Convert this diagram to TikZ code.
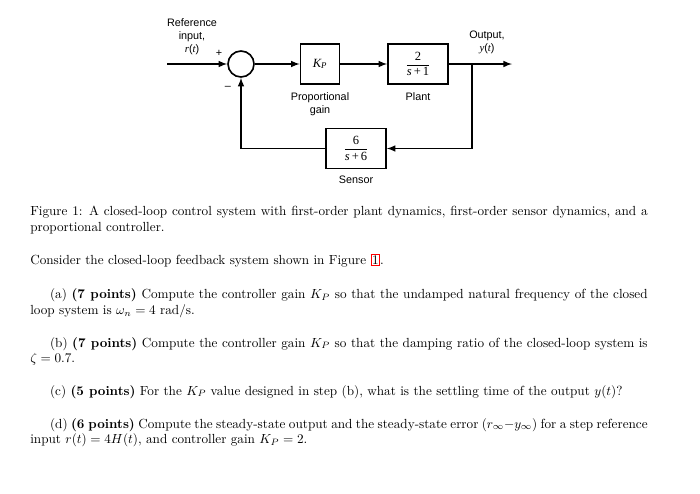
\documentclass[tikz,border=0pt]{standalone}
\usepackage{amsmath}
\usepackage{amssymb}
\usepackage{fontspec}
\newfontfamily\labelfont{Liberation Sans}
\newfontfamily\blockfont{Liberation Serif}
\newcommand{\figref}[1]{{\setlength{\fboxsep}{0.6pt}\setlength{\fboxrule}{0.5pt}\fcolorbox{red}{white}{#1}}}
\usetikzlibrary{arrows}
\tikzset{>=latex}

\begin{document}
\begin{tikzpicture}[x=0.758pt,y=-0.758pt,
    block/.style={draw,line width=1.25pt,minimum height=30.3pt,inner sep=0pt,font=\blockfont\fontsize{9.5}{10}\selectfont},
    lbl/.style={font=\labelfont\fontsize{8.2}{10}\selectfont,text width=70pt,align=center,inner sep=0pt,anchor=base},
    body/.style={anchor=base west,text width=468pt,align=justify,inner sep=0pt,font=\fontsize{10}{12}\selectfont}]
    \useasboundingbox (0,0) rectangle (700,493);

    \coordinate (In) at (167,64);
    \coordinate (Out) at (512,64);
    \coordinate (Br) at (472,64);

    \node[draw,circle,line width=1.25pt,minimum size=19.7pt,inner sep=0pt] (Sum) at (241,64) {};
    \node[block,minimum width=29.6pt] (Kp) at (320,64) {\itshape K\textsubscript{P}};
    \node[block,minimum width=45.5pt] (Plant) at (418,64) {$\dfrac{\text{\blockfont 2}}{\text{\blockfont\itshape s\upshape\,+\,1}}$};
    \node[block,minimum width=45.5pt] (Sensor) at (356,148.5) {$\dfrac{\text{\blockfont 6}}{\text{\blockfont\itshape s\upshape\,+\,6}}$};

    \draw[->,line width=1.25pt](In)--(Sum);
    \draw[->,line width=1.25pt](Sum)--(Kp);
    \draw[->,line width=1.25pt](Kp)--(Plant);
    \draw[->,line width=1.25pt](Plant)--(Out);
    \draw[->,line width=1.25pt](Br)|-(Sensor);
    \draw[->,line width=1.25pt](Sensor)-|(Sum);

    \node[lbl] (RefIn) at (192,26.5) {Reference\\input,\\{\blockfont\itshape r}({\blockfont\itshape t})};
    \node[lbl] (Plus) at (219,56) {+};
    \node[lbl] (Minus) at (228,89) {\textendash};
    \node[lbl] (OutLbl) at (487,38.5) {Output,\\{\blockfont\itshape y}({\blockfont\itshape t})};
    \node[lbl] (KpLbl) at (320,100.5) {Proportional\\gain};
    \node[lbl] (PlantLbl) at (418,100.5) {Plant};
    \node[lbl] (SensorLbl) at (356,183) {Sensor};

    \node[body] (Caption) at (30,215.5) {Figure 1: A closed-loop control system with first-order plant dynamics, first-order sensor dynamics, and a proportional controller.};
    \node[body] (Intro) at (30,264.5) {Consider the closed-loop feedback system shown in Figure~\figref{1}.};
    \node[body] (PartA) at (30,298.5) {\hspace*{15pt}(a) \textbf{(7 points)} Compute the controller gain $K_P$ so that the undamped natural frequency of the closed loop system is $\omega_n = 4$ rad/s.};
    \node[body] (PartB) at (30,347) {\hspace*{15pt}(b) \textbf{(7 points)} Compute the controller gain $K_P$ so that the damping ratio of the closed-loop system is $\zeta = 0.7$.};
    \node[body] (PartC) at (30,395) {\hspace*{15pt}(c) \textbf{(5 points)} For the $K_P$ value designed in step (b), what is the settling time of the output $y(t)$?};
    \node[body] (PartD) at (30,428) {\hspace*{15pt}(d) \textbf{(6 points)} Compute the steady-state output and the steady-state error $(r_\infty{-}y_\infty)$ for a step reference input $r(t) = 4H(t)$, and controller gain $K_P = 2$.};
\end{tikzpicture}
\end{document}
